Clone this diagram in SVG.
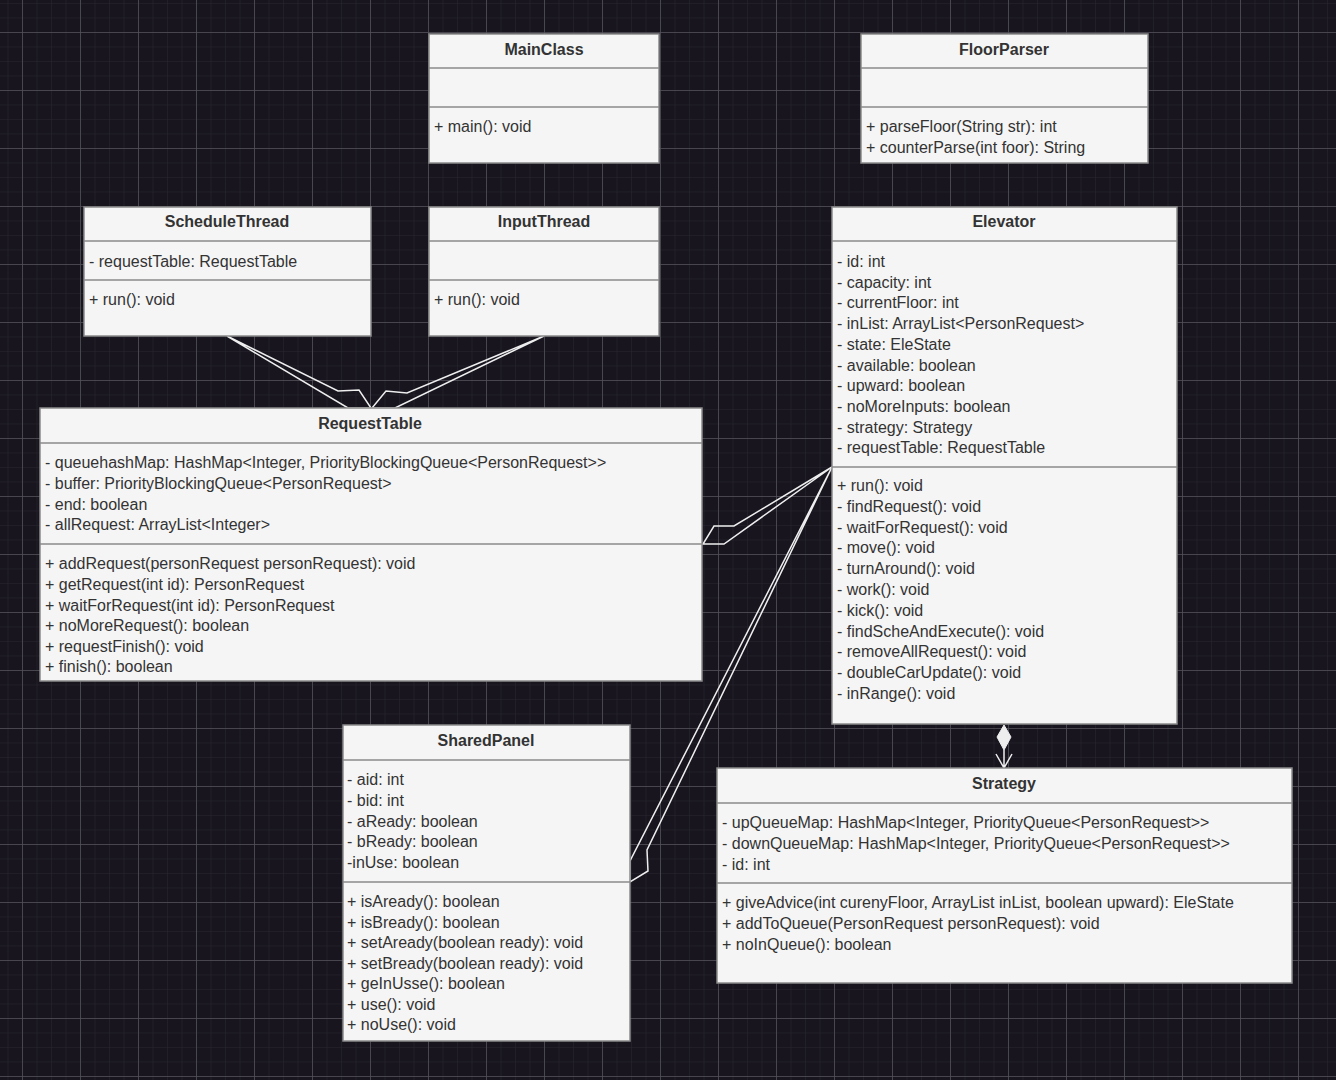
<svg xmlns="http://www.w3.org/2000/svg" width="1336" height="1080" viewBox="0 0 1336 1080">
<defs>
<pattern id="minor" x="22" y="32" width="14.5" height="14.5" patternUnits="userSpaceOnUse"><path d="M0 0H14.5M0 0V14.5" stroke="#2a2730" stroke-width="1" fill="none"/></pattern>
<pattern id="major" x="22" y="32" width="58" height="58" patternUnits="userSpaceOnUse"><path d="M0 0H58M0 0V58" stroke="#55525a" stroke-width="1.5" fill="none"/></pattern>
</defs>
<style>
.box{fill:#f5f5f5;stroke:#8a8a8a;stroke-width:1.5}
.div{stroke:#8a8a8a;stroke-width:1.5}
.t{font-family:"Liberation Sans",Arial,sans-serif;font-size:16px;fill:#333}
.h{font-family:"Liberation Sans",Arial,sans-serif;font-size:16px;font-weight:bold;fill:#333;text-anchor:middle}
.c{stroke:#eeeeee;stroke-width:1.5;fill:none}
</style>
<rect width="1336" height="1080" fill="#18151f"/>
<rect width="1336" height="1080" fill="url(#minor)"/>
<rect width="1336" height="1080" fill="url(#major)"/>
<g id="connectors">
<path class="c" d="M227 336L338 391L359 390L371 408L348 408Z"/>
<path class="c" d="M544 336L407 393L386 391L372 408L395 408Z"/>
<path class="c" d="M832 467L734 526L714 526L703 544L724 544Z"/>
<path class="c" d="M832 467L647 850L648 871L630 882L630 861Z"/>
<path d="M1004 725L1011 737L1004 750L997 737Z" fill="#eee" stroke="#eee"/>
<path class="c" d="M1004 750V768M996 754L1004 768L1012 754"/>
</g>
<g id="MainClass"><rect class="box" x="429" y="34" width="230" height="129"/><line class="div" x1="429" y1="68" x2="659" y2="68"/><line class="div" x1="429" y1="107" x2="659" y2="107"/>
<text class="h" x="544" y="55">MainClass</text><text class="t" x="434" y="132">+ main(): void</text></g>
<g id="FloorParser"><rect class="box" x="861" y="34" width="287" height="129"/><line class="div" x1="861" y1="68" x2="1148" y2="68"/><line class="div" x1="861" y1="107" x2="1148" y2="107"/>
<text class="h" x="1004" y="55">FloorParser</text><text class="t" x="866" y="132">+ parseFloor(String str): int</text><text class="t" x="866" y="153">+ counterParse(int foor): String</text></g>
<g id="ScheduleThread"><rect class="box" x="84" y="207" width="287" height="129"/><line class="div" x1="84" y1="241" x2="371" y2="241"/><line class="div" x1="84" y1="280" x2="371" y2="280"/>
<text class="h" x="227" y="227">ScheduleThread</text><text class="t" x="89" y="267">- requestTable: RequestTable</text><text class="t" x="89" y="305">+ run(): void</text></g>
<g id="InputThread"><rect class="box" x="429" y="207" width="230" height="129"/><line class="div" x1="429" y1="241" x2="659" y2="241"/><line class="div" x1="429" y1="280" x2="659" y2="280"/>
<text class="h" x="544" y="227">InputThread</text><text class="t" x="434" y="305">+ run(): void</text></g>
<g id="Elevator"><rect class="box" x="832" y="207" width="345" height="517"/><line class="div" x1="832" y1="241" x2="1177" y2="241"/><line class="div" x1="832" y1="467" x2="1177" y2="467"/>
<text class="h" x="1004" y="227">Elevator</text>
<text class="t" x="837" y="267">- id: int</text><text class="t" x="837" y="287.7">- capacity: int</text><text class="t" x="837" y="308.4">- currentFloor: int</text><text class="t" x="837" y="329.1">- inList: ArrayList&lt;PersonRequest&gt;</text><text class="t" x="837" y="349.8">- state: EleState</text><text class="t" x="837" y="370.5">- available: boolean</text><text class="t" x="837" y="391.2">- upward: boolean</text><text class="t" x="837" y="411.9">- noMoreInputs: boolean</text><text class="t" x="837" y="432.6">- strategy: Strategy</text><text class="t" x="837" y="453.3">- requestTable: RequestTable</text>
<text class="t" x="837" y="491">+ run(): void</text><text class="t" x="837" y="511.8">- findRequest(): void</text><text class="t" x="837" y="532.6">- waitForRequest(): void</text><text class="t" x="837" y="553.4">- move(): void</text><text class="t" x="837" y="574.2">- turnAround(): void</text><text class="t" x="837" y="595">- work(): void</text><text class="t" x="837" y="615.8">- kick(): void</text><text class="t" x="837" y="636.6">- findScheAndExecute(): void</text><text class="t" x="837" y="657.4">- removeAllRequest(): void</text><text class="t" x="837" y="678.2">- doubleCarUpdate(): void</text><text class="t" x="837" y="699">- inRange(): void</text></g>
<g id="RequestTable"><rect class="box" x="40" y="408" width="662" height="273"/><line class="div" x1="40" y1="443" x2="702" y2="443"/><line class="div" x1="40" y1="544" x2="702" y2="544"/>
<text class="h" x="370" y="429">RequestTable</text>
<text class="t" x="45" y="468">- queuehashMap: HashMap&lt;Integer, PriorityBlockingQueue&lt;PersonRequest&gt;&gt;</text><text class="t" x="45" y="489">- buffer: PriorityBlockingQueue&lt;PersonRequest&gt;</text><text class="t" x="45" y="510">- end: boolean</text><text class="t" x="45" y="530">- allRequest: ArrayList&lt;Integer&gt;</text>
<text class="t" x="45" y="569">+ addRequest(personRequest personRequest): void</text><text class="t" x="45" y="590">+ getRequest(int id): PersonRequest</text><text class="t" x="45" y="611">+ waitForRequest(int id): PersonRequest</text><text class="t" x="45" y="631">+ noMoreRequest(): boolean</text><text class="t" x="45" y="652">+ requestFinish(): void</text><text class="t" x="45" y="672">+ finish(): boolean</text></g>
<g id="SharedPanel"><rect class="box" x="343" y="725" width="287" height="316"/><line class="div" x1="343" y1="760" x2="630" y2="760"/><line class="div" x1="343" y1="882" x2="630" y2="882"/>
<text class="h" x="486" y="746">SharedPanel</text>
<text class="t" x="347" y="785">- aid: int</text><text class="t" x="347" y="806">- bid: int</text><text class="t" x="347" y="827">- aReady: boolean</text><text class="t" x="347" y="847">- bReady: boolean</text><text class="t" x="347" y="868">-inUse: boolean</text>
<text class="t" x="347" y="907">+ isAready(): boolean</text><text class="t" x="347" y="927.5">+ isBready(): boolean</text><text class="t" x="347" y="948">+ setAready(boolean ready): void</text><text class="t" x="347" y="968.5">+ setBready(boolean ready): void</text><text class="t" x="347" y="989">+ geInUsse(): boolean</text><text class="t" x="347" y="1009.5">+ use(): void</text><text class="t" x="347" y="1030">+ noUse(): void</text></g>
<g id="Strategy"><rect class="box" x="717" y="768" width="575" height="215"/><line class="div" x1="717" y1="803" x2="1292" y2="803"/><line class="div" x1="717" y1="883" x2="1292" y2="883"/>
<text class="h" x="1004" y="789">Strategy</text>
<text class="t" x="722" y="828">- upQueueMap: HashMap&lt;Integer, PriorityQueue&lt;PersonRequest&gt;&gt;</text><text class="t" x="722" y="849">- downQueueMap: HashMap&lt;Integer, PriorityQueue&lt;PersonRequest&gt;&gt;</text><text class="t" x="722" y="870">- id: int</text>
<text class="t" x="722" y="908">+ giveAdvice(int curenyFloor, ArrayList inList, boolean upward): EleState</text><text class="t" x="722" y="929">+ addToQueue(PersonRequest personRequest): void</text><text class="t" x="722" y="950">+ noInQueue(): boolean</text></g>
</svg>
